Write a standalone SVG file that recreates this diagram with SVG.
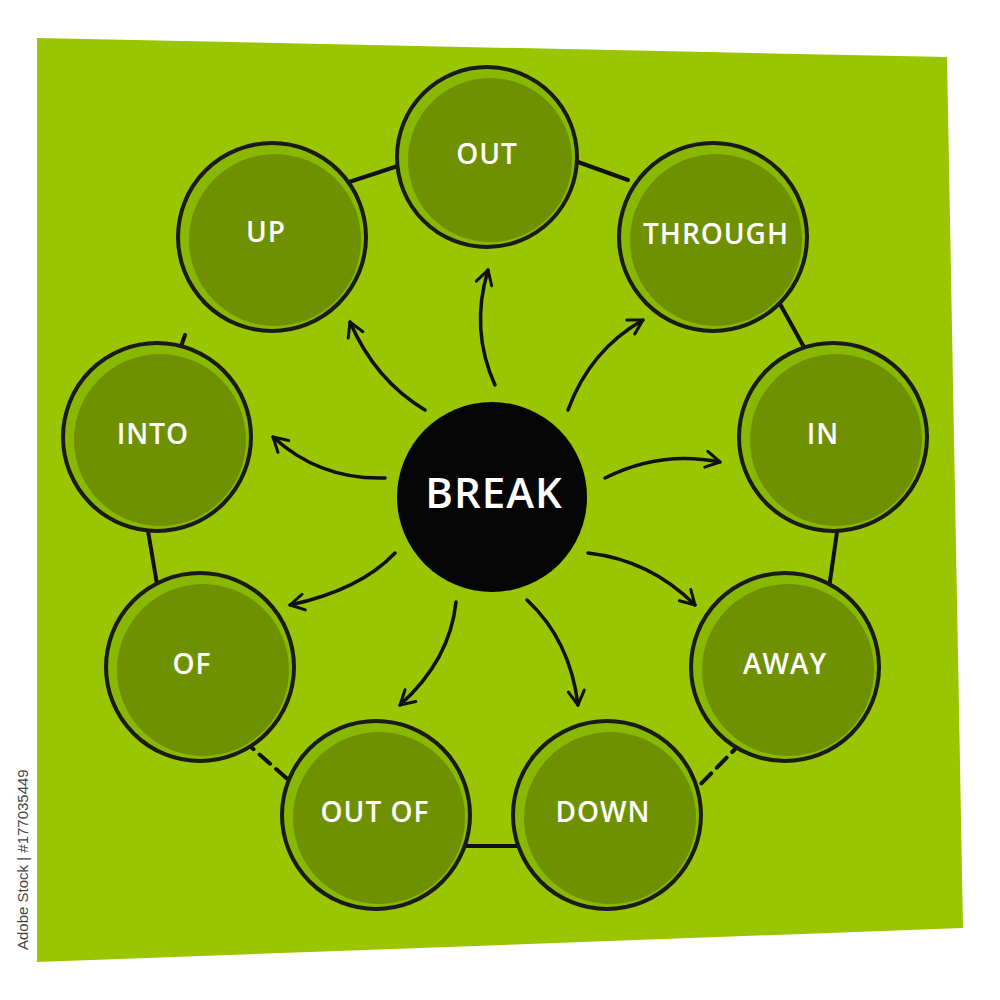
<svg xmlns="http://www.w3.org/2000/svg" width="1000" height="1000" viewBox="0 0 1000 1000">
<defs>
<marker id="ah" viewBox="0 0 20 20" refX="16" refY="10" markerWidth="20" markerHeight="20" markerUnits="userSpaceOnUse" orient="auto">
<path d="M2,2 L16,10 L2,18" fill="none" stroke="#111" stroke-width="3" stroke-linecap="round" stroke-linejoin="round"/>
</marker>
</defs>
<style>
.o{fill:#88b800;stroke:#1a1a1a;stroke-width:4}
.i{fill:#6f9000}
.t{font-family:"Open Sans","Liberation Sans",sans-serif;font-weight:600;font-size:28px;fill:#fff;text-anchor:middle;dominant-baseline:middle;letter-spacing:1px}
.c{fill:none;stroke:#111;stroke-width:4;stroke-linecap:round}
.a{fill:none;stroke:#111;stroke-width:3.5;stroke-linecap:round;marker-end:url(#ah)}
</style>
<rect width="1000" height="1000" fill="#fff"/>
<polygon points="37,38 947,57 963,928 37,962" fill="#99c600"/>
<text transform="translate(28,950) rotate(-90)" font-family="Liberation Sans,sans-serif" font-size="15" fill="#444">Adobe Stock | #177035449</text>
<g id="connectors">
<path class="c" d="M340,185 L410,162"/>
<path class="c" d="M578,162 L628,180"/>
<path class="c" d="M775,295 L810,358"/>
<path class="c" d="M838,525 L828,595"/>
<path class="c" d="M742,742 L695,790" stroke-dasharray="14,8"/>
<path class="c" d="M455,846 L528,846"/>
<path class="c" d="M243,740 L300,790" stroke-dasharray="14,8"/>
<path class="c" d="M147,525 L158,590"/>
<path class="c" d="M185,335 L178,355"/>
<path class="c" d="M207,292 L204,302"/>
<path class="a" d="M495,385 Q470,330 488,270"/>
<path class="a" d="M425,410 Q375,380 350,322"/>
<path class="a" d="M568,410 Q590,350 643,320"/>
<path class="a" d="M385,478 Q320,480 273,437"/>
<path class="a" d="M605,478 Q660,450 720,462"/>
<path class="a" d="M588,553 Q650,560 695,605"/>
<path class="a" d="M527,600 Q570,640 578,705"/>
<path class="a" d="M456,602 Q450,660 400,705"/>
<path class="a" d="M395,553 Q360,590 290,605"/>
</g>
<g id="n-out"><circle class="o" cx="487" cy="157" r="90"/><circle class="i" cx="490" cy="160" r="82"/><text class="t" x="487" y="157">OUT</text></g>
<g id="n-up"><circle class="o" cx="272" cy="237" r="94"/><circle class="i" cx="275" cy="240" r="86"/><text class="t" x="266" y="235">UP</text></g>
<g id="n-through"><circle class="o" cx="713" cy="237" r="94"/><circle class="i" cx="716" cy="240" r="86"/><text class="t" x="716" y="237">THROUGH</text></g>
<g id="n-into"><circle class="o" cx="157" cy="437" r="94"/><circle class="i" cx="160" cy="440" r="86"/><text class="t" x="153" y="437">INTO</text></g>
<g id="n-in"><circle class="o" cx="833" cy="437" r="94"/><circle class="i" cx="836" cy="440" r="86"/><text class="t" x="823" y="437">IN</text></g>
<g id="n-of"><circle class="o" cx="200" cy="667" r="94"/><circle class="i" cx="203" cy="670" r="86"/><text class="t" x="192" y="667">OF</text></g>
<g id="n-away"><circle class="o" cx="785" cy="667" r="94"/><circle class="i" cx="788" cy="670" r="86"/><text class="t" x="785" y="667">AWAY</text></g>
<g id="n-outof"><circle class="o" cx="376" cy="815" r="94"/><circle class="i" cx="379" cy="818" r="86"/><text class="t" x="375" y="815">OUT OF</text></g>
<g id="n-down"><circle class="o" cx="607" cy="815" r="94"/><circle class="i" cx="610" cy="818" r="86"/><text class="t" x="603" y="815">DOWN</text></g>
<g id="n-break"><circle cx="492" cy="497" r="95" fill="#050505"/><text class="t" x="494" y="497" style="font-size:42px">BREAK</text></g>
</svg>
